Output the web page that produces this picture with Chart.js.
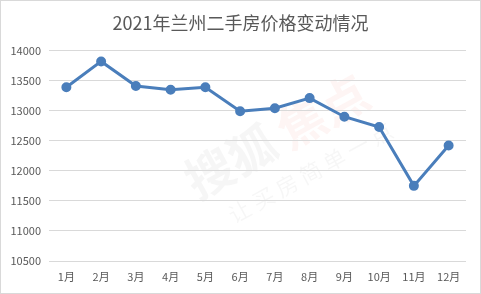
<!DOCTYPE html>
<html>
<head>
<meta charset="utf-8">
<script src="https://cdn.jsdelivr.net/npm/chart.js@4"></script>
<style>
body{margin:0;background:#fff;}
#wrap{width:481px;height:294px;}
</style>
</head>
<body>
<div id="wrap"><canvas id="lineChart" width="481" height="294"></canvas></div>
<script>

// DATA

const months = ["1月","2月","3月","4月","5月","6月","7月","8月","9月","10月","11月","12月"];
const prices = [13390,13820,13410,13350,13390,12990,13040,13210,12900,12730,11750,12420];
const yTicks = [10500,11000,11500,12000,12500,13000,13500,14000];

const font = "'Noto Sans CJK SC', 'Microsoft YaHei', sans-serif";

// BACKGROUND, BORDER AND WATERMARK

const backdrop = {
id:"backdrop",
beforeDraw(chart){
const ctx = chart.ctx;
ctx.save();
ctx.fillStyle = "#fff";
ctx.fillRect(0,0,chart.width,chart.height);
ctx.strokeStyle = "#d9d9d9";
ctx.lineWidth = 1;
ctx.strokeRect(0.5,0.5,chart.width-1,chart.height-1);

// faint watermark
ctx.translate(270,140);
ctx.rotate(-0.5);
ctx.font = "bold 48px " + font;
ctx.textAlign = "center";
ctx.textBaseline = "middle";
ctx.fillStyle = "rgba(0,0,0,0.035)";
ctx.fillText("搜狐",-45,0);
ctx.fillStyle = "rgba(230,60,40,0.05)";
ctx.fillText("焦点",60,0);
ctx.font = "22px " + font;
ctx.fillStyle = "rgba(0,0,0,0.035)";
ctx.fillText("让 买 房 简 单 一 点",20,48);
ctx.restore();
}
};

// LINE CHART

new Chart(
document.getElementById("lineChart"),
{
type:"line",
data:{
labels:months,
datasets:[{
data:prices,
borderColor:"#4a7ebb",
backgroundColor:"#4a7ebb",
borderWidth:3,
pointRadius:3.5,
pointHoverRadius:3.5,
tension:0
}]
},
options:{
responsive:false,
animation:false,
layout:{padding:0},
plugins:{
legend:{display:false},
tooltip:{enabled:false},
title:{
display:true,
text:"2021年兰州二手房价格变动情况",
color:"#595959",
font:{family:font,size:18,weight:"normal"},
padding:{top:12,bottom:17}
}
},
scales:{
x:{
offset:true,
grid:{display:false},
border:{display:false},
ticks:{color:"#595959",font:{family:font,size:11},padding:1,maxRotation:0},
afterFit(scale){ scale.height = 33; }
},
y:{
min:yTicks[0],
max:yTicks[yTicks.length-1],
afterBuildTicks(scale){ scale.ticks = yTicks.map(v => ({value:v})); },
grid:{color:"#d9d9d9",drawTicks:false},
border:{display:false},
ticks:{color:"#595959",font:{family:font,size:11},padding:8,callback:v => String(v)},
afterFit(scale){ scale.width = 49; }
},
// empty right axis, only keeps a 15px margin so the title stays centred on the page
spacer:{
position:"right",
grid:{display:false},
border:{display:false},
ticks:{display:false},
afterFit(scale){ scale.width = 15; }
}
}
},
plugins:[backdrop]
}
);

</script>
</body>
</html>
